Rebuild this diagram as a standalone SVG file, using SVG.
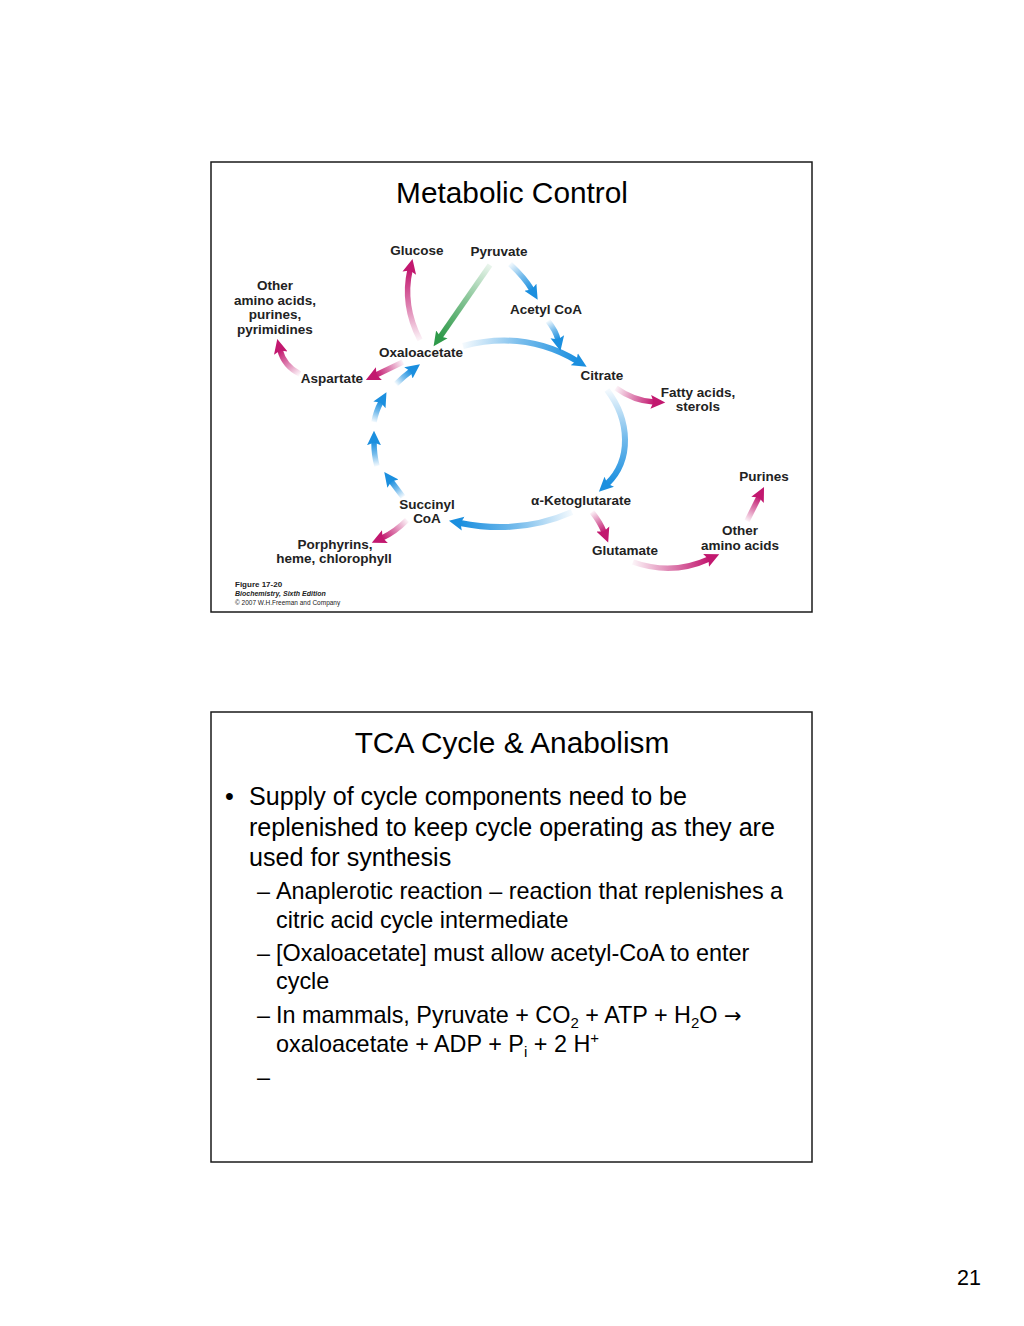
<svg xmlns="http://www.w3.org/2000/svg" xmlns:xlink="http://www.w3.org/1999/xlink" width="1024" height="1326" viewBox="0 0 1024 1326">
<style>
.frame{fill:#fff;stroke:#1a1a1a;stroke-width:1.5}
.title{font-family:"Liberation Sans",Arial,sans-serif;font-size:29.8px;fill:#000;text-anchor:middle}
.body{font-family:"Liberation Sans",Arial,sans-serif;font-size:25.1px;fill:#000}
.sub{font-family:"Liberation Sans",Arial,sans-serif;font-size:23.4px;fill:#000}
.lbl{font-family:"Liberation Sans",Arial,sans-serif;font-weight:bold;font-size:13.5px;fill:#222;text-anchor:middle}
.cap{font-family:"Liberation Sans",Arial,sans-serif;fill:#222}
.b{fill:none;stroke-linecap:butt}
</style>
<defs>
<linearGradient id="gBlue"><stop offset="0" stop-color="#1b8fdf" stop-opacity="0.05"/><stop offset="0.5" stop-color="#1b8fdf" stop-opacity="0.6"/><stop offset="1" stop-color="#1b8fdf" stop-opacity="1"/></linearGradient>
<linearGradient id="gMag"><stop offset="0" stop-color="#c2186f" stop-opacity="0.05"/><stop offset="0.5" stop-color="#c2186f" stop-opacity="0.55"/><stop offset="1" stop-color="#c2186f" stop-opacity="1"/></linearGradient>
<linearGradient id="gGreen"><stop offset="0" stop-color="#2f9a4a" stop-opacity="0.1"/><stop offset="0.5" stop-color="#2f9a4a" stop-opacity="0.6"/><stop offset="1" stop-color="#2f9a4a" stop-opacity="1"/></linearGradient>
<marker id="hBlue" markerUnits="userSpaceOnUse" markerWidth="15" markerHeight="15" viewBox="0 0 14 14" refX="3" refY="7" orient="auto"><path d="M0,0.5 L13.5,7 L0,13.5 L2.5,7 z" fill="#1b8fdf"/></marker>
<marker id="hMag" markerUnits="userSpaceOnUse" markerWidth="15" markerHeight="15" viewBox="0 0 14 14" refX="3" refY="7" orient="auto"><path d="M0,0.5 L13.5,7 L0,13.5 L2.5,7 z" fill="#c2186f"/></marker>
<marker id="hGreen" markerUnits="userSpaceOnUse" markerWidth="15" markerHeight="15" viewBox="0 0 14 14" refX="3" refY="7" orient="auto"><path d="M0,0.5 L13.5,7 L0,13.5 L2.5,7 z" fill="#2f9a4a"/></marker>
<linearGradient id="a1" xlink:href="#gBlue" gradientUnits="userSpaceOnUse" x1="510" y1="264" x2="532" y2="290"/>
<linearGradient id="a2" xlink:href="#gBlue" gradientUnits="userSpaceOnUse" x1="548" y1="321" x2="558" y2="340"/>
<linearGradient id="a3" xlink:href="#gBlue" gradientUnits="userSpaceOnUse" x1="463" y1="346" x2="577" y2="361"/>
<linearGradient id="a4" xlink:href="#gBlue" gradientUnits="userSpaceOnUse" x1="607" y1="390" x2="607" y2="484"/>
<linearGradient id="a5" xlink:href="#gBlue" gradientUnits="userSpaceOnUse" x1="572" y1="512" x2="460" y2="523"/>
<linearGradient id="s1" xlink:href="#gBlue" gradientUnits="userSpaceOnUse" x1="403" y1="497" x2="391" y2="481"/>
<linearGradient id="s2" xlink:href="#gBlue" gradientUnits="userSpaceOnUse" x1="377" y1="466" x2="374" y2="442"/>
<linearGradient id="s3" xlink:href="#gBlue" gradientUnits="userSpaceOnUse" x1="374" y1="422" x2="381" y2="402"/>
<linearGradient id="s4" xlink:href="#gBlue" gradientUnits="userSpaceOnUse" x1="396" y1="384" x2="411" y2="371"/>
<linearGradient id="m7" xlink:href="#gMag" gradientUnits="userSpaceOnUse" x1="420" y1="340" x2="410" y2="270"/>
<linearGradient id="g8" xlink:href="#gGreen" gradientUnits="userSpaceOnUse" x1="490" y1="265" x2="440" y2="337"/>
<linearGradient id="m9" xlink:href="#gMag" gradientUnits="userSpaceOnUse" x1="403" y1="362" x2="376" y2="375"/>
<linearGradient id="m10" xlink:href="#gMag" gradientUnits="userSpaceOnUse" x1="300" y1="374" x2="280" y2="350"/>
<linearGradient id="m11" xlink:href="#gMag" gradientUnits="userSpaceOnUse" x1="616" y1="388" x2="654" y2="402"/>
<linearGradient id="m12" xlink:href="#gMag" gradientUnits="userSpaceOnUse" x1="407" y1="520" x2="382" y2="538"/>
<linearGradient id="m13" xlink:href="#gMag" gradientUnits="userSpaceOnUse" x1="592" y1="512" x2="604" y2="532"/>
<linearGradient id="m14" xlink:href="#gMag" gradientUnits="userSpaceOnUse" x1="633" y1="562" x2="709" y2="559"/>
<linearGradient id="m15" xlink:href="#gMag" gradientUnits="userSpaceOnUse" x1="747" y1="521" x2="759" y2="497"/>
</defs>
<rect width="1024" height="1326" fill="#fff"/>

<g id="slide1">
<rect class="frame" x="211" y="162" width="601" height="450"/>
<text class="title" x="512" y="203">Metabolic Control</text>
</g>

<g id="connectors">
<path class="b" d="M510,264 Q525,278 532,290" stroke="url(#a1)" stroke-width="5.5" marker-end="url(#hBlue)"/>
<path class="b" d="M548,321 Q556,331 558,340" stroke="url(#a2)" stroke-width="5.5" marker-end="url(#hBlue)"/>
<path class="b" d="M463,346 Q525,330 577,361" stroke="url(#a3)" stroke-width="6" marker-end="url(#hBlue)"/>
<path class="b" d="M607,390 C630,420 632,460 607,484" stroke="url(#a4)" stroke-width="6" marker-end="url(#hBlue)"/>
<path class="b" d="M572,512 Q520,535 460,523" stroke="url(#a5)" stroke-width="6" marker-end="url(#hBlue)"/>
<path class="b" d="M403,497 L391,481" stroke="url(#s1)" stroke-width="5.5" marker-end="url(#hBlue)"/>
<path class="b" d="M377,466 Q374,455 374,442" stroke="url(#s2)" stroke-width="5.5" marker-end="url(#hBlue)"/>
<path class="b" d="M374,422 Q376,411 381,402" stroke="url(#s3)" stroke-width="5.5" marker-end="url(#hBlue)"/>
<path class="b" d="M396,384 Q403,377 411,371" stroke="url(#s4)" stroke-width="5.5" marker-end="url(#hBlue)"/>
<path class="b" d="M420,340 Q402,305 410,270" stroke="url(#m7)" stroke-width="5.5" marker-end="url(#hMag)"/>
<path class="b" d="M490,265 L440,337" stroke="url(#g8)" stroke-width="5.5" marker-end="url(#hGreen)"/>
<path class="b" d="M403,362 L376,375" stroke="url(#m9)" stroke-width="5.5" marker-end="url(#hMag)"/>
<path class="b" d="M300,374 Q284,366 280,350" stroke="url(#m10)" stroke-width="5.5" marker-end="url(#hMag)"/>
<path class="b" d="M616,388 Q634,401 654,402" stroke="url(#m11)" stroke-width="5.5" marker-end="url(#hMag)"/>
<path class="b" d="M407,520 Q395,532 382,538" stroke="url(#m12)" stroke-width="5.5" marker-end="url(#hMag)"/>
<path class="b" d="M592,512 Q600,522 604,532" stroke="url(#m13)" stroke-width="5.5" marker-end="url(#hMag)"/>
<path class="b" d="M633,562 Q672,576 709,559" stroke="url(#m14)" stroke-width="5.5" marker-end="url(#hMag)"/>
<path class="b" d="M747,521 L759,497" stroke="url(#m15)" stroke-width="5.5" marker-end="url(#hMag)"/>
</g>

<g id="n-glucose"><text class="lbl" x="417" y="255">Glucose</text></g>
<g id="n-pyruvate"><text class="lbl" x="499" y="256">Pyruvate</text></g>
<g id="n-acetylcoa"><text class="lbl" x="546" y="314">Acetyl CoA</text></g>
<g id="n-other1"><text class="lbl" x="275" y="290">Other</text><text class="lbl" x="275" y="305">amino acids,</text><text class="lbl" x="275" y="319">purines,</text><text class="lbl" x="275" y="334">pyrimidines</text></g>
<g id="n-oxaloacetate"><text class="lbl" x="421" y="357">Oxaloacetate</text></g>
<g id="n-aspartate"><text class="lbl" x="332" y="383">Aspartate</text></g>
<g id="n-citrate"><text class="lbl" x="602" y="380">Citrate</text></g>
<g id="n-fatty"><text class="lbl" x="698" y="397">Fatty acids,</text><text class="lbl" x="698" y="411">sterols</text></g>
<g id="n-purines"><text class="lbl" x="764" y="481">Purines</text></g>
<g id="n-succinyl"><text class="lbl" x="427" y="509">Succinyl</text><text class="lbl" x="427" y="523">CoA</text></g>
<g id="n-akg"><text class="lbl" x="581" y="505">α-Ketoglutarate</text></g>
<g id="n-porph"><text class="lbl" x="335" y="549">Porphyrins,</text><text class="lbl" x="334" y="563">heme, chlorophyll</text></g>
<g id="n-glutamate"><text class="lbl" x="625" y="555">Glutamate</text></g>
<g id="n-other2"><text class="lbl" x="740" y="535">Other</text><text class="lbl" x="740" y="550">amino acids</text></g>
<g id="caption">
<text class="cap" x="235" y="587" font-size="8" font-weight="bold">Figure 17-20</text>
<text class="cap" x="235" y="596" font-size="7" font-weight="bold" font-style="italic">Biochemistry, Sixth Edition</text>
<text class="cap" x="235" y="605" font-size="6.5" fill="#444">© 2007 W.H.Freeman and Company</text>
</g>

<g id="slide2">
<rect class="frame" x="211" y="712" width="601" height="450"/>
<text class="title" x="512" y="753">TCA Cycle &amp; Anabolism</text>
<text class="body" x="225" y="805">•</text>
<text class="body" x="249" y="805">Supply of cycle components need to be</text>
<text class="body" x="249" y="836">replenished to keep cycle operating as they are</text>
<text class="body" x="249" y="866">used for synthesis</text>
<text class="sub" x="257" y="899">–</text>
<text class="sub" x="276" y="899">Anaplerotic reaction – reaction that replenishes a</text>
<text class="sub" x="276" y="928">citric acid cycle intermediate</text>
<text class="sub" x="257" y="961">–</text>
<text class="sub" x="276" y="961">[Oxaloacetate] must allow acetyl-CoA to enter</text>
<text class="sub" x="276" y="989">cycle</text>
<text class="sub" x="257" y="1023">–</text>
<text class="sub" x="276" y="1023">In mammals, Pyruvate + CO<tspan dy="5" font-size="15">2</tspan><tspan dy="-5"> + ATP + H</tspan><tspan dy="5" font-size="15">2</tspan><tspan dy="-5">O </tspan><tspan font-family="DejaVu Sans, sans-serif" font-size="21">→</tspan></text>
<text class="sub" x="276" y="1052">oxaloacetate + ADP + P<tspan dy="5" font-size="15">i</tspan><tspan dy="-5"> + 2 H</tspan><tspan dy="-9" font-size="15">+</tspan></text>
<text class="sub" x="257" y="1085">–</text>
</g>

<g id="page"><text x="957" y="1285" font-family="Liberation Sans, Arial, sans-serif" font-size="21.5" fill="#000">21</text></g>
</svg>
